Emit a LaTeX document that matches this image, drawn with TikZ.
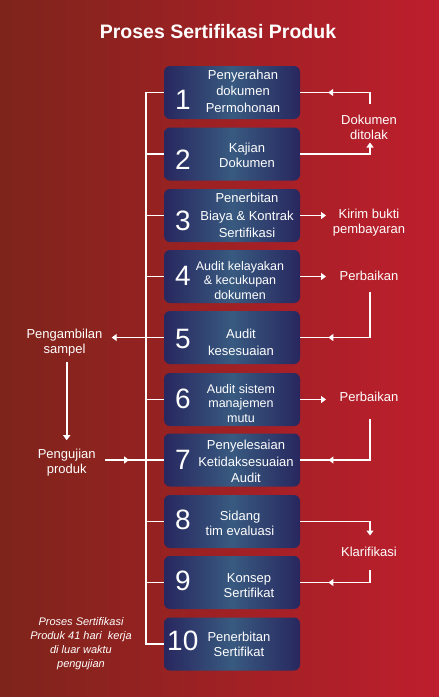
\documentclass[tikz,border=0pt]{standalone}
\usepackage{fontspec}
\setmainfont{Liberation Sans}
\usetikzlibrary{arrows.meta,decorations.markings}
\definecolor{bgleft}{HTML}{7E241B}
\definecolor{bgright}{HTML}{BE1E2D}
\definecolor{boxdark}{HTML}{28275F}
\definecolor{boxlight}{HTML}{385A80}
\tikzset{
  stepbox/.style={rounded corners=6pt, minimum width=136pt, minimum height=53pt,
    inner sep=0pt, left color=boxdark, right color=boxdark, middle color=boxlight},
  num/.style={text=white, inner sep=0pt, font=\fontsize{28}{28}\selectfont},
  boxtxt/.style={text=white, align=center, inner sep=0pt, font=\fontsize{13}{#1}\selectfont},
  boxtxt/.default=15.5,
  tighttxt/.style={text=white, align=center, inner sep=0pt, font=\fontsize{12.5}{14.6}\selectfont},
  lbl/.style={text=white, align=center, inner sep=0pt, font=\fontsize{13}{15}\selectfont},
  wline/.style={draw=white, line width=1.6pt},
  wtip/.tip={Triangle[length=5pt,width=7pt]},
  midtip/.style={postaction={decorate},
    decoration={markings, mark=at position #1 with {\arrow{wtip}}}}
}
\begin{document}
\begin{tikzpicture}[x=1pt,y=-1pt]
  % background
  \fill[left color=bgleft, right color=bgright] (0,0) rectangle (439,697);
  \node[text=white, font=\bfseries\fontsize{19.5}{22}\selectfont] (title) at (218,32) {Proses Sertifikasi Produk};

  % steps
  \node[stepbox] (b1) at (232,92.5) {};
  \node[num] (n1) at ([xshift=19pt,yshift=-7.5pt]b1.west) {1};
  \node[boxtxt=16.5] (t1) at ([xshift=11pt,yshift=1.5pt]b1.center) {Penyerahan\\dokumen\\Permohonan};

  \node[stepbox] (b2) at (232,154) {};
  \node[num] (n2) at ([xshift=19pt,yshift=-6pt]b2.west) {2};
  \node[boxtxt] (t2) at ([xshift=15pt,yshift=-1.5pt]b2.center) {Kajian\\Dokumen};

  \node[stepbox] (b3) at (232,215.5) {};
  \node[num] (n3) at ([xshift=19pt,yshift=-5.5pt]b3.west) {3};
  \node[boxtxt=17.5] (t3) at ([xshift=15pt]b3.center) {Penerbitan\\Biaya \& Kontrak\\Sertifikasi};

  \node[stepbox] (b4) at (232,276.5) {};
  \node[num] (n4) at ([xshift=19pt,yshift=0.7pt]b4.west) {4};
  \node[tighttxt] (t4) at ([xshift=8pt,yshift=-4pt]b4.center) {Audit kelayakan\\\& kecukupan\\dokumen};

  \node[stepbox] (b5) at (232,337.5) {};
  \node[num] (n5) at ([xshift=19pt,yshift=-1.5pt]b5.west) {5};
  \node[boxtxt=17] (t5) at ([xshift=9pt,yshift=-5pt]b5.center) {Audit\\kesesuaian};

  \node[stepbox] (b6) at (232,399.5) {};
  \node[num] (n6) at ([xshift=19pt,yshift=0.5pt]b6.west) {6};
  \node[tighttxt] (t6) at ([xshift=9pt,yshift=-4pt]b6.center) {Audit sistem\\manajemen\\mutu};

  \node[stepbox] (b7) at (232,460) {};
  \node[num] (n7) at ([xshift=19pt]b7.west) {7};
  \node[boxtxt=16.5] (t7) at ([xshift=14pt,yshift=-1.5pt]b7.center) {Penyelesaian\\Ketidaksesuaian\\Audit};

  \node[stepbox] (b8) at (232,521.5) {};
  \node[num] (n8) at ([xshift=19pt,yshift=1.5pt]b8.west) {8};
  \node[boxtxt=15] (t8) at ([xshift=8pt,yshift=-2pt]b8.center) {Sidang\\tim evaluasi};

  \node[stepbox] (b9) at (232,582.5) {};
  \node[num] (n9) at ([xshift=19pt,yshift=1.5pt]b9.west) {9};
  \node[boxtxt=15] (t9) at ([xshift=17pt,yshift=-3pt]b9.center) {Konsep\\Sertifikat};

  \node[stepbox] (b10) at (232,644) {};
  \node[num] (n10) at ([xshift=19pt,yshift=3pt]b10.west) {10};
  \node[boxtxt=15] (t10) at ([xshift=7pt,yshift=-0.5pt]b10.center) {Penerbitan\\Sertifikat};

  % side labels
  \node[lbl] (dok) at (369,127.5) {Dokumen\\ditolak};
  \node[lbl] (kirim) at (369,223) {Kirim bukti\\pembayaran};
  \node[lbl] (perb1) at (369,276) {Perbaikan};
  \node[lbl] (perb2) at (369,397) {Perbaikan};
  \node[lbl] (klar) at (369,552) {Klarifikasi};
  \node[lbl] (amb) at (64.5,343) {Pengambilan\\sampel};
  \node[lbl] (uji) at (66.7,463) {Pengujian\\produk};
  \node[text=white, align=center, inner sep=0pt, font=\itshape\fontsize{11}{14}\selectfont] (note) at (81,643.5)
    {Proses Sertifikasi\\Produk 41 hari\ \ kerja\\di luar waktu\\pengujian};

  % free ends
  \coordinate (d1) at (370,104);
  \coordinate (d2) at (370,142.5);
  \coordinate (e3) at (326,215.5);
  \coordinate (e4) at (326,276.5);
  \coordinate (p1) at (370,291.7);
  \coordinate (e6) at (326,399.5);
  \coordinate (p2) at (370,419.3);
  \coordinate (k1) at (370,535.5);
  \coordinate (k2) at (370,570);
  \coordinate (a1) at (111.7,337.5);
  \coordinate (u1) at (105,460);

  % left spine
  \draw[wline] (b1.west) -- ++(-18,0) |- (b10.west);
  \draw[wline] (b2.west) -- ++(-18,0);
  \draw[wline] (b3.west) -- ++(-18,0);
  \draw[wline] (b4.west) -- ++(-18,0);
  \draw[wline] (b6.west) -- ++(-18,0);
  \draw[wline] (b8.west) -- ++(-18,0);
  \draw[wline] (b9.west) -- ++(-18,0);
  \draw[wline,-{wtip}] (b5.west) -- (a1);
  \draw[wline,-{wtip},shorten <=5pt,shorten >=9pt] (uji.north |- amb.south) -- (uji.north);
  \draw[wline,midtip=0.41] (u1) -- (b7.west);

  % right side
  \draw[wline,midtip=0.656] (d1) |- (b1.east);
  \draw[wline,-{wtip}] (b2.east) -| (d2);
  \draw[wline,-{wtip}] (b3.east) -- (e3);
  \draw[wline,-{wtip}] (b4.east) -- (e4);
  \draw[wline,midtip=0.756] (p1) |- (b5.east);
  \draw[wline,-{wtip}] (b6.east) -- (e6);
  \draw[wline,midtip=0.744] (p2) |- (b7.east);
  \draw[wline,-{wtip}] (b8.east) -| (k1);
  \draw[wline,midtip=0.657] (k2) |- (b9.east);
\end{tikzpicture}
\end{document}
